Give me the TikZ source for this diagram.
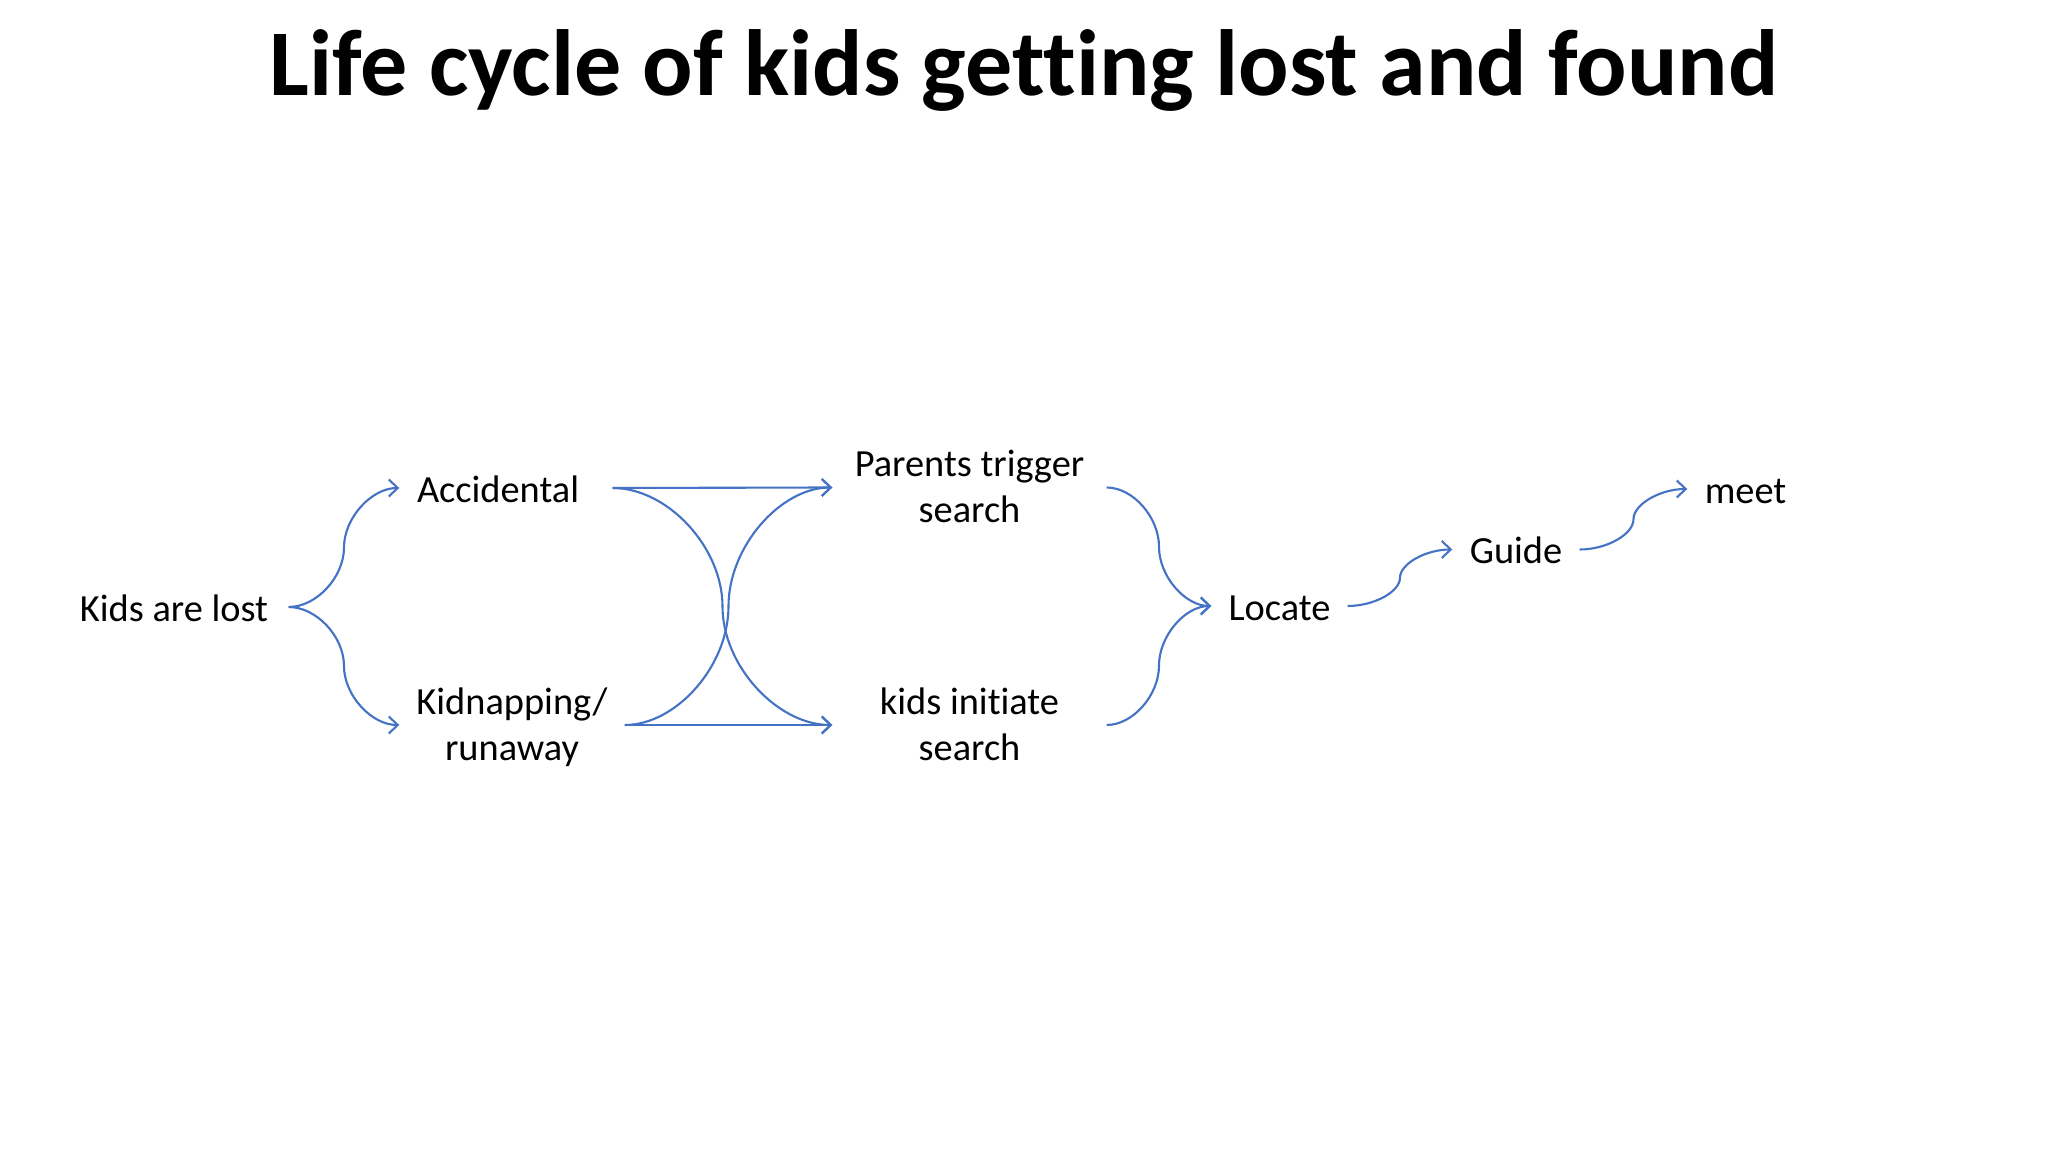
\documentclass[tikz,border=0pt]{standalone}
\usepackage{fontspec}
\setmainfont{Carlito}[Ligatures=NoCommon]
\usetikzlibrary{calc,arrows.meta}
\definecolor{conn}{HTML}{4472C4}
\begin{document}
\begin{tikzpicture}[x=1cm,y=1cm,
  lbl/.style={inner sep=0pt, font=\fontsize{10.92}{13.1}\selectfont, text height=9.9pt, text depth=1.65pt},
  mlbl/.style={inner sep=0pt, align=center, font=\fontsize{10.92}{13.1}\selectfont, text height=20.2pt, text depth=0pt},
  titlestyle/.style={inner sep=0pt, font=\fontsize{26.75}{32}\selectfont\bfseries},
  link/.style={draw=conn, line width=0.6pt, -{Straight Barb[length=0.09cm,width=0.17cm]}},
  scurve/.style={to path={
    let \p1=(\tikztostart), \p2=(\tikztotarget),
        \p3=($(\p1)!0.5!(\p2)$), \p4=($(\p1)!0.25!(\p2)$), \p5=($(\p1)!0.75!(\p2)$) in
    .. controls (\x4,\y1) and (\x3,\y4) .. (\x3,\y3)
    .. controls (\x3,\y5) and (\x5,\y2) .. (\x2,\y2)}}
]
\useasboundingbox (0,0) rectangle (20.48,-11.52);

\node[titlestyle, anchor=base] (title) at (10.24,-0.96) {Life cycle of kids getting lost and found};

\node[lbl, minimum width=2.28cm] (K) at (1.74,-6.07) {Kids are lost};
\node[lbl, text width=1.78cm, inner xsep=0.17cm, align=left] (A) at (5.06,-4.88) {Accidental};
\node[mlbl, minimum width=2.24cm] (KR) at (5.12,-7.25) {Kidnapping/\\runaway};
\node[mlbl, minimum width=2.73cm] (P) at (9.695,-4.875) {Parents trigger\\search};
\node[mlbl, minimum width=2.73cm] (I) at (9.695,-7.25) {kids initiate\\search};
\node[lbl, minimum width=1.35cm] (L) at (12.795,-6.06) {Locate};
\node[lbl, minimum width=1.26cm] (G) at (15.16,-5.495) {Guide};
\node[lbl, minimum width=1.15cm] (M) at (17.455,-4.89) {meet};

\draw[link] (K.east) to[scurve] (A.west);
\draw[link] (K.east) to[scurve] (KR.west);
\draw[link] (A.east) -- (P.west);
\draw[link] (A.east) to[scurve] (I.west);
\draw[link] (KR.east) to[scurve] (P.west);
\draw[link] (KR.east) -- (I.west);
\draw[link] (P.east) to[scurve] (L.west);
\draw[link] (I.east) to[scurve] (L.west);
\draw[link] (L.east) to[scurve] (G.west);
\draw[link] (G.east) to[scurve] (M.west);
\end{tikzpicture}
\end{document}
